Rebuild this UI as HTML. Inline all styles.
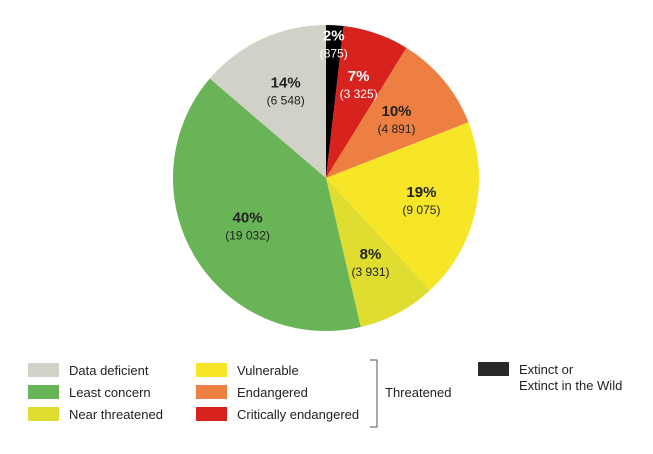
<!DOCTYPE html>
<html><head><meta charset="utf-8"><style>
body{margin:0;background:#fff;width:653px;height:454px;overflow:hidden;font-family:"Liberation Sans",sans-serif}
svg{display:block}
</style></head><body>
<svg width="653" height="454">
<g id="pie"></g>
<g id="labels"></g>
<g id="legend"></g>
<path d="M370 360 H377 V427 H370" fill="none" stroke="#555" stroke-width="1"/>
<text x="385" y="397" font-size="13" fill="#222">Threatened</text>
</svg>
<script>
const categories=["Extinct or Extinct in the Wild","Critically endangered","Endangered","Vulnerable","Near threatened","Least concern","Data deficient"];
const counts=[875,3325,4891,9075,3931,19032,6548];
const percentLabels=["2%","7%","10%","19%","8%","40%","14%"];
const countLabels=["(875)","(3 325)","(4 891)","(9 075)","(3 931)","(19 032)","(6 548)"];
const colors=["#000000","#d7221e","#ee7f43","#f7e627","#dedd30","#6ab458","#d2d1c7"];
const labelColors=["#fff","#fff","#222","#222","#222","#222","#222"];
const labelRadius=[0.88,0.65,0.6,0.64,0.62,0.6,0.63];
const cx=326,cy=178,r=153,NS="http://www.w3.org/2000/svg";
const total=counts.reduce((a,b)=>a+b,0);
const pie=document.getElementById('pie'),lab=document.getElementById('labels');
function pt(a,rr){return [cx+rr*Math.sin(a),cy-rr*Math.cos(a)];}
let a0=0;
counts.forEach((v,i)=>{
  const a1=a0+v/total*2*Math.PI;
  const p0=pt(a0,r),p1=pt(a1,r);
  const p=document.createElementNS(NS,'path');
  p.setAttribute('d',`M${cx} ${cy} L${p0[0]} ${p0[1]} A${r} ${r} 0 ${a1-a0>Math.PI?1:0} 1 ${p1[0]} ${p1[1]} Z`);
  p.setAttribute('fill',colors[i]);
  
  
  pie.appendChild(p);
  const m=(a0+a1)/2,lp=pt(m,r*labelRadius[i]);
  const t1=document.createElementNS(NS,'text');
  t1.setAttribute('x',lp[0]);t1.setAttribute('y',lp[1]-3);
  t1.setAttribute('text-anchor','middle');t1.setAttribute('font-size','15');t1.setAttribute('font-weight','bold');
  t1.setAttribute('fill',labelColors[i]);t1.textContent=percentLabels[i];
  
  
  lab.appendChild(t1);
  const t2=document.createElementNS(NS,'text');
  t2.setAttribute('x',lp[0]);t2.setAttribute('y',lp[1]+14);
  t2.setAttribute('text-anchor','middle');t2.setAttribute('font-size','12');
  t2.setAttribute('fill',labelColors[i]);t2.textContent=countLabels[i];
  
  
  lab.appendChild(t2);
  a0=a1;
});
const legendItems=[[6,28,363,["Data deficient"]],[5,28,385,["Least concern"]],[4,28,407,["Near threatened"]],[3,196,363,["Vulnerable"]],[2,196,385,["Endangered"]],[1,196,407,["Critically endangered"]],[0,478,362,["Extinct or","Extinct in the Wild"]]];
const lg=document.getElementById('legend');
legendItems.forEach(([ci,x,y,lines])=>{
  const g=document.createElementNS(NS,'g');
  
  
  const rc=document.createElementNS(NS,'rect');
  rc.setAttribute('x',x);rc.setAttribute('y',y);rc.setAttribute('width',31);rc.setAttribute('height',14);
  rc.setAttribute('fill',ci===0?'#2a2828':colors[ci]);
  g.appendChild(rc);
  lines.forEach((s,k)=>{
    const t=document.createElementNS(NS,'text');
    t.setAttribute('x',x+41);t.setAttribute('y',y+12+k*16);t.setAttribute('font-size','13');t.setAttribute('fill','#222');
    t.textContent=s;g.appendChild(t);
  });
  lg.appendChild(g);
});
</script>
</body></html>
